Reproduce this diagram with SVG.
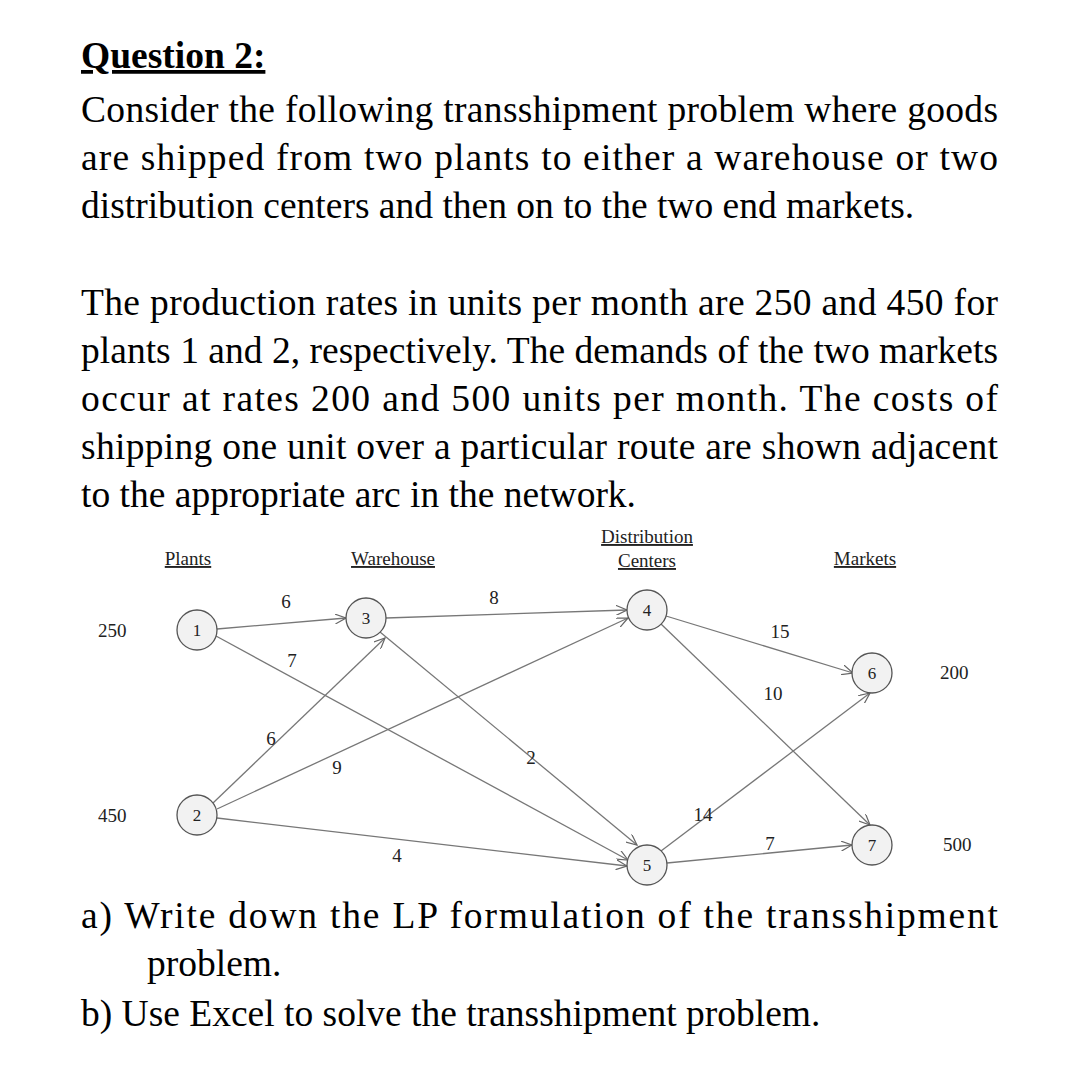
<svg xmlns="http://www.w3.org/2000/svg" width="1080" height="1080" viewBox="0 0 1080 1080">
<defs>
<style>
.t{font-family:"Liberation Serif",serif;font-size:37.5px;fill:#000}
.s{font-family:"Liberation Serif",serif;font-size:19px;fill:#222}
.n circle{fill:#f2f2f2;stroke:#555;stroke-width:1.3}
.n text{font-family:"Liberation Serif",serif;font-size:17px;text-anchor:middle;fill:#222}
.e line{stroke:#777;stroke-width:1.3;marker-end:url(#a)}
</style>
<marker id="a" markerWidth="12" markerHeight="10" refX="11" refY="5" orient="auto" markerUnits="userSpaceOnUse"><path d="M0,0 L11,5 L0,10" fill="none" stroke="#666" stroke-width="1.2"/></marker>
</defs>
<rect width="1080" height="1080" fill="#fff"/>
<text class="t" x="81" y="68" font-weight="bold" text-decoration="underline">Question 2:</text>
<text class="t" x="81" y="122" textLength="917" lengthAdjust="spacing">Consider the following transshipment problem where goods</text>
<text class="t" x="81" y="170" textLength="917" lengthAdjust="spacing">are shipped from two plants to either a warehouse or two</text>
<text class="t" x="81" y="218">distribution centers and then on to the two end markets.</text>
<text class="t" x="81" y="315" textLength="917" lengthAdjust="spacing">The production rates in units per month are 250 and 450 for</text>
<text class="t" x="81" y="363" textLength="917" lengthAdjust="spacing">plants 1 and 2, respectively. The demands of the two markets</text>
<text class="t" x="81" y="411" textLength="917" lengthAdjust="spacing">occur at rates 200 and 500 units per month. The costs of</text>
<text class="t" x="81" y="459" textLength="917" lengthAdjust="spacing">shipping one unit over a particular route are shown adjacent</text>
<text class="t" x="81" y="507">to the appropriate arc in the network.</text>
<g id="headers">
<text class="s" x="188" y="565" text-anchor="middle" text-decoration="underline">Plants</text>
<text class="s" x="393" y="565" text-anchor="middle" text-decoration="underline">Warehouse</text>
<text class="s" x="647" y="543" text-anchor="middle" text-decoration="underline">Distribution</text>
<text class="s" x="647" y="567" text-anchor="middle" text-decoration="underline">Centers</text>
<text class="s" x="865" y="565" text-anchor="middle" text-decoration="underline">Markets</text>
</g>
<text class="s" x="98" y="637">250</text>
<text class="s" x="98" y="822">450</text>
<text class="s" x="940" y="679">200</text>
<text class="s" x="943" y="851">500</text>
<g id="connectors" class="e">
<line x1="217" y1="629" x2="346" y2="618"/>
<line x1="216" y1="636" x2="628" y2="860"/>
<line x1="213" y1="803" x2="385" y2="638"/>
<line x1="217" y1="809" x2="628" y2="618"/>
<line x1="217" y1="818" x2="627" y2="866"/>
<line x1="386" y1="618" x2="627" y2="610"/>
<line x1="380" y1="632" x2="637" y2="845"/>
<line x1="666" y1="616" x2="853" y2="673"/>
<line x1="661" y1="624" x2="870" y2="825"/>
<line x1="661" y1="851" x2="870" y2="693"/>
<line x1="667" y1="863" x2="852" y2="845"/>
</g>
<g id="costs">
<text class="s" x="286" y="608" text-anchor="middle">6</text>
<text class="s" x="292" y="667" text-anchor="middle">7</text>
<text class="s" x="271" y="745" text-anchor="middle">6</text>
<text class="s" x="337" y="774" text-anchor="middle">9</text>
<text class="s" x="397" y="862" text-anchor="middle">4</text>
<text class="s" x="494" y="604" text-anchor="middle">8</text>
<text class="s" x="531" y="764" text-anchor="middle">2</text>
<text class="s" x="780" y="638" text-anchor="middle">15</text>
<text class="s" x="773" y="700" text-anchor="middle">10</text>
<text class="s" x="703" y="821" text-anchor="middle">14</text>
<text class="s" x="770" y="850" text-anchor="middle">7</text>
</g>
<g id="n1" class="n"><circle cx="197" cy="630" r="20"/><text x="197" y="636">1</text></g>
<g id="n2" class="n"><circle cx="197" cy="815" r="20"/><text x="197" y="821">2</text></g>
<g id="n3" class="n"><circle cx="366" cy="618" r="20"/><text x="366" y="624">3</text></g>
<g id="n4" class="n"><circle cx="647" cy="610" r="20"/><text x="647" y="616">4</text></g>
<g id="n5" class="n"><circle cx="647" cy="865" r="20"/><text x="647" y="871">5</text></g>
<g id="n6" class="n"><circle cx="872" cy="673" r="20"/><text x="872" y="679">6</text></g>
<g id="n7" class="n"><circle cx="872" cy="845" r="20"/><text x="872" y="851">7</text></g>
<text class="t" x="81" y="928" textLength="917" lengthAdjust="spacing">a) Write down the LP formulation of the transshipment</text>
<text class="t" x="147" y="976">problem.</text>
<text class="t" x="81" y="1026">b) Use Excel to solve the transshipment problem.</text>
</svg>
